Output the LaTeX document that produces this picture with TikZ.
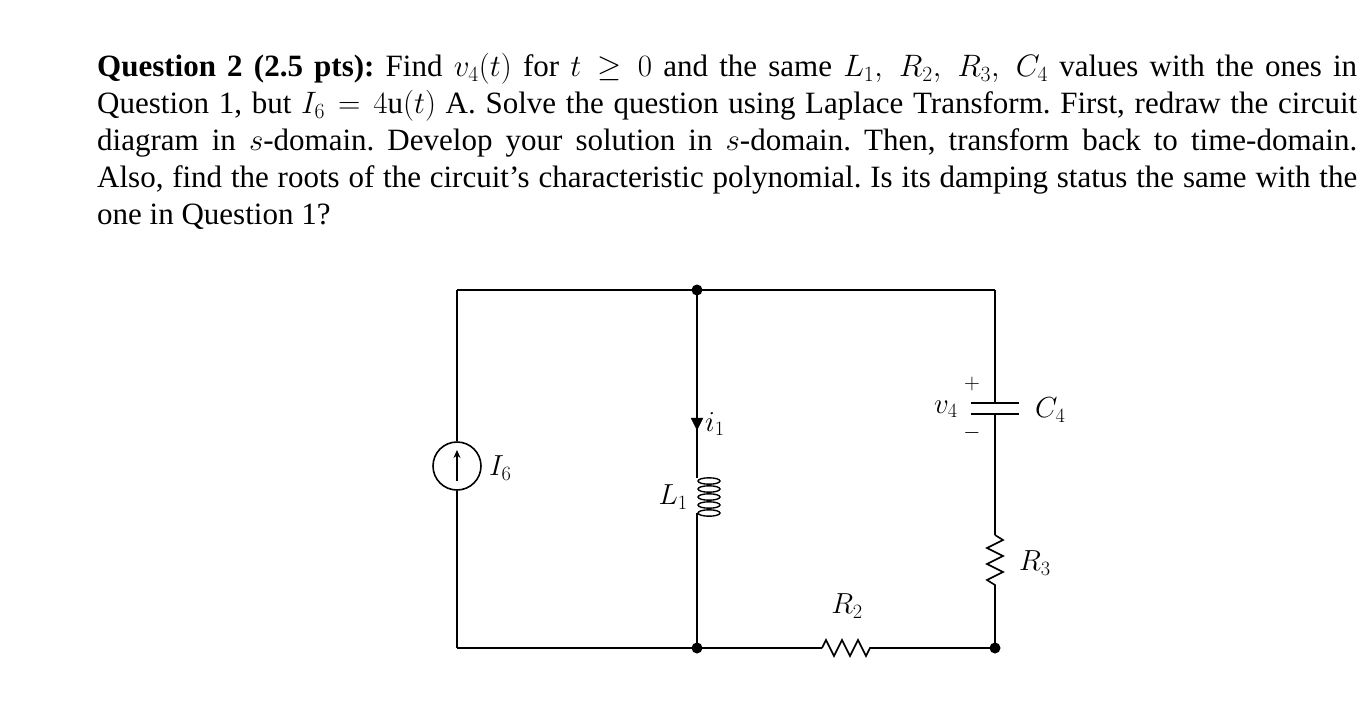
\RequirePackage{fix-cm}
\documentclass[tikz,border=0pt]{standalone}
\usepackage{amsmath}
\usepackage{fontspec}
\setmainfont{Liberation Serif}
\usetikzlibrary{arrows.meta}
\DeclareMathSizes{31}{31}{21.7}{16}
\DeclareMathSizes{29}{29}{20.3}{15}
\frenchspacing
\begin{document}
\begin{tikzpicture}[x=1pt,y=-1pt,
  wire/.style={line width=1.6pt},
  dotn/.style={circle,fill=black,inner sep=0pt,minimum size=11pt},
  lbl/.style={font=\fontsize{29}{34}\selectfont,inner sep=0pt}]
\useasboundingbox (0,0) rectangle (1371,723);
\node[anchor=north west,inner sep=0pt,text width=1260pt,align=justify,
  font=\fontsize{31}{37}\selectfont] (txt) at (97,53)
 {\textbf{Question 2 (2.5 pts):} Find $v_4(t)$ for $t\geq 0$ and the same $L_1,\ R_2,\ R_3,\ C_4$ values with the ones in\linebreak Question~1, but $I_6=4\mathrm{u}(t)$ A. Solve the question using Laplace Transform. First, redraw the circuit\linebreak diagram in $s$-domain. Develop your solution in $s$-domain. Then, transform back to time-domain.\linebreak Also, find the roots of the circuit's characteristic polynomial. Is its damping status the same with the\linebreak one in Question 1?\par};
% nodes
\node[dotn] (tm) at (697,290) {};
\node[dotn] (bm) at (697,648) {};
\node[dotn] (br) at (995,648) {};
\coordinate (tl) at (457,290);
\coordinate (bl) at (457,648);
\coordinate (tr) at (995,290);
\node[circle,draw,line width=1.6pt,minimum size=48pt,inner sep=0pt] (src) at (457,466) {};
\draw[wire] (tl) -- (src.north);
\draw[wire] (src.south) -- (bl);
\draw[line width=1.6pt,-{Stealth[length=8pt,width=7pt]}] (457,481) -- (457,450);
\node[lbl,anchor=west] (i6) at (489,468) {$I_6$};
\draw[wire] (tl) -- (tm.center) -- (tr);
\draw[wire] (bl) -- (bm.center) -- (822,648);
% R2
\draw[wire] (822,648) -- (826,640) -- (834,656) -- (842,640) -- (850,656) -- (858,640) -- (866,656) -- (870,648) -- (br.center);
\node[lbl] (r2) at (847,606) {$R_2$};
% middle branch
\coordinate (ls) at (697,478);
\draw[wire] (tm.center) -- (ls);
\draw[fill=black] (691,418) -- (703,418) -- (697,430) -- cycle;
\node[lbl,anchor=west] (i1) at (705,424) {$i_1$};
\foreach \k in {0,...,4} {
  \draw[line width=1.4pt] (709,481+8*\k) ellipse (11pt and 3.2pt);
}
\draw[wire] (697,513) -- (bm.center);
\node[lbl,anchor=east] (l1) at (688,497) {$L_1$};
% right branch
\draw[wire] (tr) -- (995,403);
\draw[wire] (971,403) -- (1019,403);
\draw[wire] (971,414) -- (1019,414);
\draw[wire] (995,414) -- (995,535);
\draw[wire] (995,535) -- (1003,540) -- (987,548) -- (1003,556) -- (987,564) -- (1003,572) -- (987,580) -- (995,585) -- (br.center);
\node[lbl] (plus) at (972,384) {\fontsize{22}{22}\selectfont$+$};
\node[lbl] (minus) at (972,433) {\fontsize{22}{22}\selectfont$-$};
\node[lbl] (v4) at (946,409) {$v_4$};
\node[lbl,anchor=west] (c4) at (1035,410) {$C_4$};
\node[lbl,anchor=west] (r3) at (1019,563) {$R_3$};
\end{tikzpicture}
\end{document}
